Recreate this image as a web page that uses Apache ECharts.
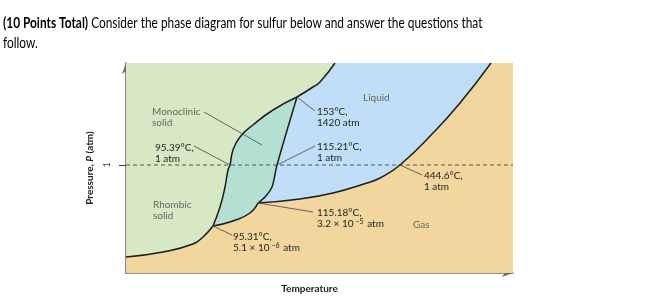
<!DOCTYPE html>
<html><head><meta charset="utf-8">
<script src="https://cdn.jsdelivr.net/npm/echarts@6/dist/echarts.min.js"></script>
<style>html,body{margin:0;padding:0;background:#fff}#c{width:655px;height:304px}</style>
</head><body><div id="c"></div>
<script>
// Schematic diagram units: x = temperature (no numeric scale), y = pressure (no numeric scale)
const xRange = [0, 387];
const yRange = [0, 210];
const oneAtm = 108;            // position of the 1 atm reference line
const yTickLabels = ['1'];

// Phase boundaries (schematic units)
const rhombicGas    = [[0,16],[37,21],[67,29],[77,36],[87,47]];
const rhombicMono   = [[87,47],[94,66],[99,86],[102,103],[104,108],[107,123],[114,136],[127,148],[147,163],[171,176]];
const rhombicLiquid = [[171,176],[187,186],[194,191],[209,210]];
const monoLiquid    = [[171,176],[151,108],[146,86],[139,76],[132,70]];
const monoGas       = [[87,47],[107,52],[124,60],[132,70]];
const liquidGas     = [[132,70],[174,74],[207,80],[241,90],[254,95],[274,108],[307,140],[334,170],[365,210]];

// Region labels and point annotations
const regionNames = ['Monoclinic\nsolid', 'Liquid', 'Rhombic\nsolid', 'Gas'];
const pointTexts = [
  '{n|153°C,}\n{n|1420 atm}',
  '{n|115.21°C,}\n{n|1 atm}',
  '{n|95.39°C,}\n{n|1 atm}',
  '{n|444.6°C,}\n{n|1 atm}',
  '{n|115.18°C,}\n{n|3.2 × 10}{s|−5}{n| atm}',
  '{n|95.31°C,}\n{n|5.1 × 10}{s|−6}{n| atm}'
];
const titleText = '{b|(10 Points Total)}{r| Consider the phase diagram for sulfur below and answer the questions that}\n{r|follow.}';

// ---- layout (not data) ----
const colors = {gas:'#f1d79e', rhombic:'#d6e9c4', mono:'#b4e0d4', liquid:'#c0def7'};
// label anchor (top-left of text) and leader line [from, to] in diagram units
const regionLayout = [
  {at:[26,167], leader:[[78,161],[136,128]]},
  {at:[237,181], leader:null},
  {at:[27,74],  leader:null},
  {at:[287,54], leader:null}
];
const pointLayout = [
  {at:[191,167], leader:[[171,176],[189,162]]},
  {at:[191,132], leader:[[151,108],[189,127]]},
  {at:[29,131],  leader:[[68,127],[104,108]]},
  {at:[298,103], leader:[[274,108],[296,98]]},
  {at:[191,66],  leader:[[132,70],[187,61]]},
  {at:[107,42],  leader:[[87,47],[106,38]]}
];

const gasRegion = [[xRange[0],yRange[0]],[xRange[1],yRange[0]],[xRange[1],yRange[1]],[xRange[0],yRange[1]]];
const rhombicRegion = [[0,yRange[1]]].concat(rhombicGas, rhombicMono.slice(1), rhombicLiquid.slice(1));
const monoRegion = rhombicMono.concat(monoLiquid.slice(1), monoGas.slice().reverse().slice(1));
const liquidRegion = rhombicLiquid.concat(liquidGas.slice().reverse(), monoLiquid.slice().reverse().slice(1));

function regionSeries(pts, color, z) {
  return {
    type:'custom', z:z, silent:true, data:[[0,0]],
    renderItem:function(params, api){
      return {type:'polygon', shape:{points:pts.map(p=>api.coord(p))}, style:{fill:color, stroke:null}};
    }
  };
}
function boundarySeries(pts, sm) {
  return {type:'line', data:pts, smooth:sm, symbol:'none', z:5, silent:true,
    lineStyle:{color:'#1c1c1c', width:1.5}};
}
const FONT = 'Lato';
const annSeries = {
  type:'custom', z:10, silent:true, data:[[0,0]],
  renderItem:function(params, api){
    const children = [];
    regionNames.forEach((t,i)=>{
      const L = regionLayout[i];
      const p = api.coord(L.at);
      children.push({type:'text', style:{text:t, x:p[0], y:p[1], fill:'#666', fontSize:10, fontFamily:FONT, lineHeight:11, verticalAlign:'top'}});
      if (L.leader) {
        const a = api.coord(L.leader[0]), b = api.coord(L.leader[1]);
        children.push({type:'line', shape:{x1:a[0],y1:a[1],x2:b[0],y2:b[1]}, style:{stroke:'#555', lineWidth:0.9}});
      }
    });
    pointTexts.forEach((t,i)=>{
      const L = pointLayout[i];
      const p = api.coord(L.at);
      children.push({type:'text', style:{text:t, x:p[0], y:p[1], verticalAlign:'top',
        rich:{n:{fill:'#1e1e1e', fontSize:10, fontFamily:FONT, lineHeight:11},
              s:{fill:'#1e1e1e', fontSize:7, fontFamily:FONT, lineHeight:11, verticalAlign:'top', padding:[0,1,0,2]}}}});
      const a = api.coord(L.leader[0]), b = api.coord(L.leader[1]);
      children.push({type:'line', shape:{x1:a[0],y1:a[1],x2:b[0],y2:b[1]}, style:{stroke:'#555', lineWidth:0.9}});
    });
    return {type:'group', children:children};
  }
};

const chart = echarts.init(document.getElementById('c'), null, {renderer:'canvas'});
chart.setOption({
  animation:false,
  graphic:[{
    type:'text', x:3, y:13, scaleX:0.82, silent:true,
    style:{text:titleText, verticalAlign:'top', rich:{
      b:{fontFamily:FONT, fontWeight:'bold', fontSize:14.5, fill:'#000', lineHeight:20},
      r:{fontFamily:FONT, fontWeight:'normal', fontSize:14.5, fill:'#000', lineHeight:20}
    }}
  }],
  grid:{left:126, top:63, right:142, bottom:31, containLabel:false},
  xAxis:{type:'value', min:xRange[0], max:xRange[1],
    axisLine:{show:true, symbol:['none','arrow'], symbolSize:[6,11], lineStyle:{color:'#6b6b6b', width:1.6}},
    axisTick:{show:false}, axisLabel:{show:false}, splitLine:{show:false},
    name:'Temperature', nameLocation:'middle', nameGap:11,
    nameTextStyle:{fontFamily:FONT, fontWeight:'bold', fontSize:10, color:'#222', verticalAlign:'top', padding:[0,20,0,0]}
  },
  yAxis:{type:'value', min:yRange[0], max:yRange[1],
    axisLine:{show:true, symbol:['none','arrow'], symbolSize:[6,11], lineStyle:{color:'#6b6b6b', width:1.6}},
    axisTick:{show:true, customValues:[oneAtm], length:7, lineStyle:{color:'#444', width:1}},
    axisLabel:{show:true, customValues:[oneAtm], formatter:()=>yTickLabels[0], rotate:90, margin:14, fontSize:9, color:'#333', fontFamily:FONT},
    splitLine:{show:false},
    name:'{b|Pressure, }{i|P}{b| (atm)}', nameLocation:'middle', nameGap:18, nameRotate:90,
    nameTextStyle:{rich:{
      b:{fontFamily:FONT, fontWeight:'bold', fontSize:10, color:'#222'},
      i:{fontFamily:FONT, fontWeight:'bold', fontStyle:'italic', fontSize:10, color:'#222'}
    }}
  },
  series:[
    regionSeries(gasRegion, colors.gas, 1),
    regionSeries(rhombicRegion, colors.rhombic, 2),
    regionSeries(monoRegion, colors.mono, 2),
    regionSeries(liquidRegion, colors.liquid, 2),
    {type:'line', data:[[xRange[0],oneAtm],[xRange[1],oneAtm]], symbol:'none', z:4, silent:true,
      lineStyle:{color:'#555', width:1, type:[4,3]}},
    boundarySeries(rhombicGas, 0.5),
    boundarySeries(rhombicMono, 0.5),
    boundarySeries(rhombicLiquid, 0.5),
    boundarySeries(monoLiquid, 0.3),
    boundarySeries(monoGas, 0.5),
    boundarySeries(liquidGas, 0.5),
    annSeries
  ]
});
</script></body></html>
